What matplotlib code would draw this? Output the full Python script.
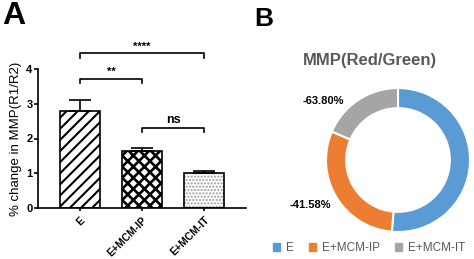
import matplotlib.pyplot as plt
from matplotlib.patches import Patch

plt.rcParams['font.family'] = ['Liberation Sans', 'DejaVu Sans']
plt.rcParams['hatch.linewidth'] = 1.5

# data
groups = ['E', 'E+MCM-IP', 'E+MCM-IT']
mmp_mean = [2.80, 1.64, 1.01]
mmp_err = [0.30, 0.10, 0.05]
hatches = ['///', 'xxx', '.....']
hatch_cols = ['black', 'black', '#9a9a9a']
hatch_lw = [1.5, 1.9, 1.0]
# significance brackets: (left, right, height, text)
sig = [(0, 1, 3.71, '**'), (0, 2, 4.45, '****'), (1, 2, 2.30, 'ns')]
ring_labels = ['', '-41.58%', '-63.80%']
ring_colors = ['#5B9BD5', '#ED7D31', '#A5A5A5']

W, H = 474, 259
fig = plt.figure(figsize=(W / 100, H / 100), dpi=100)

# ---- panel A
ax = fig.add_axes([38 / W, (H - 208) / H, 208 / W, 139 / H])
x = range(len(groups))
for i in x:
    with plt.rc_context({'hatch.linewidth': hatch_lw[i]}):
        ax.bar(i, mmp_mean[i], width=0.66, color='white', edgecolor=hatch_cols[i],
               hatch=hatches[i], linewidth=0, zorder=2)
    ax.bar(i, mmp_mean[i], width=0.66, color='none', edgecolor='black',
           linewidth=1.2, zorder=3)
ax.errorbar(list(x), mmp_mean, yerr=[[0] * 3, mmp_err], fmt='none',
            ecolor='black', elinewidth=1.2, capsize=8, capthick=1.2, zorder=4)
ax.set_xlim(-0.677, 2.677)
ax.set_ylim(0, 4)
ax.set_yticks([0, 1, 2, 3, 4])
ax.set_xticks(list(x))
ax.set_xticklabels(groups, rotation=45, ha='right', rotation_mode='anchor',
                   fontsize=7.5, fontweight='bold')
ax.tick_params(axis='y', labelsize=8, length=3, width=1.2, pad=1)
ax.tick_params(axis='x', length=2, width=1.2, pad=3)
for t in ax.get_yticklabels():
    t.set_fontweight('bold')
for s in ['top', 'right']:
    ax.spines[s].set_visible(False)
for s in ['left', 'bottom']:
    ax.spines[s].set_linewidth(1.2)
ax.set_ylabel('% change in MMP(R1/R2)', fontsize=9.5, labelpad=3)

for a, b, yy, txt in sig:
    ax.plot([a, a, b, b], [yy - 0.12, yy, yy, yy - 0.12], color='black',
            lw=1.2, clip_on=False)
    ty = yy + 0.24 if txt == 'ns' else yy + 0.2
    ax.text((a + b) / 2, ty, txt, ha='center', va='center',
            fontsize=9 if txt == 'ns' else 8, fontweight='bold', clip_on=False)

fig.text(2 / W, 1 - 16 / H, 'A', fontsize=23, fontweight='bold', va='center')

# ---- panel B
cx, cy, r = 398, 160, 72
ax2 = fig.add_axes([(cx - r) / W, (H - cy - r) / H, 2 * r / W, 2 * r / H])
ax2.pie(mmp_mean, colors=ring_colors, startangle=90, counterclock=False,
        radius=1, wedgeprops=dict(width=0.28, edgecolor='white', linewidth=1.5))
ax2.set_xlim(-1, 1)
ax2.set_ylim(-1, 1)
ax2.set_aspect('auto')
ax2.axis('off')

fig.text(323 / W, 1 - 101 / H, ring_labels[2], ha='center', va='center',
         fontsize=8, fontweight='bold')
fig.text(310 / W, 1 - 205 / H, ring_labels[1], ha='center', va='center',
         fontsize=8, fontweight='bold')

fig.text(370 / W, 1 - 60 / H, 'MMP(Red/Green)', ha='center', va='center',
         fontsize=12, fontweight='bold', color='#595959')
fig.text(254 / W, 1 - 19 / H, 'B', fontsize=19, fontweight='bold', va='center')

handles = [Patch(color=c, label=g) for c, g in zip(ring_colors, groups)]
fig.legend(handles=handles, loc='center', bbox_to_anchor=(369 / W, 1 - 248 / H),
           ncol=3, frameon=False, fontsize=8.5, handlelength=0.6, handleheight=0.6,
           handletextpad=0.5, columnspacing=1.3, labelcolor='#595959')

fig.savefig('out.png', dpi=100)
